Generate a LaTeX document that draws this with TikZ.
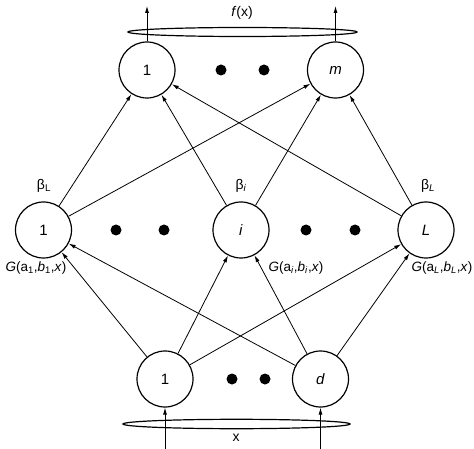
\documentclass[tikz,border=0pt]{standalone}
\usepackage{fontspec}
\setmainfont{Liberation Sans}
\usetikzlibrary{arrows.meta}
\begin{document}
\begin{tikzpicture}[x=1pt,y=-1pt,
  neuron/.style={circle,draw,line width=1.2pt,minimum size=56pt,inner sep=0pt,font=\fontsize{15}{17}\selectfont},
  lbl/.style={font=\fontsize{14}{16}\selectfont,inner sep=0pt},
  glbl/.style={font=\fontsize{13.5}{16}\selectfont,inner sep=0pt},
  conn/.style={line width=0.8pt,-{Latex[length=7pt,width=4pt]}},
  dotn/.style={circle,fill,inner sep=0pt,minimum size=11pt}]
\useasboundingbox (0,0) rectangle (474,449);
% top layer
\node[neuron] (t1) at (147,70) {1};
\node[neuron] (tm) at (335.5,70) {\textit{m}};
\node[dotn] (td1) at (221,70) {};
\node[dotn] (td2) at (264,70) {};
% middle layer
\node[neuron] (h1) at (43.5,230) {1};
\node[neuron] (hi) at (241,230) {\textit{i}};
\node[neuron] (hL) at (426,230) {\textit{L}};
\node[dotn] (hd1) at (116,230) {};
\node[dotn] (hd2) at (164,230) {};
\node[dotn] (hd3) at (306,230) {};
\node[dotn] (hd4) at (355,230) {};
% bottom layer
\node[neuron] (b1) at (165,379) {1};
\node[neuron] (bd) at (320.5,379) {\textit{d}};
\node[dotn] (bd1) at (232,379) {};
\node[dotn] (bd2) at (265,379) {};
% ellipses
\draw[line width=1.2pt] (242.5,32) ellipse [x radius=114.5, y radius=4.5];
\draw[line width=1.2pt] (236.5,424) ellipse [x radius=113.5, y radius=4.7];
\node[lbl] (fx) at (242,13) {\textit{f}(x)};
\node[lbl] (xl) at (236,438) {x};
% output arrows
\coordinate (o1) at (147,6);
\coordinate (om) at (335.5,6);
\draw[conn] (t1) -- (o1);
\draw[conn] (tm) -- (om);
% input arrows
\coordinate (i1) at (165,449);
\coordinate (id) at (320.5,449);
\draw[conn] (i1) -- (b1);
\draw[conn] (id) -- (bd);
% labels
\node[lbl] (betaL1) at (44,186) {β\textsubscript{L}};
\node[lbl] (betai) at (241,186) {β\textsubscript{\textit{i}}};
\node[lbl] (betaL2) at (428,186) {β\textsubscript{\textit{L}}};
\node[glbl] (g1) at (36,268) {\textit{G}(a\textsubscript{1},\textit{b}\textsubscript{1},\textit{x})};
\node[glbl] (gi) at (296,268) {\textit{G}(a\textsubscript{\textit{i}},\textit{b}\textsubscript{\textit{i}},\textit{x})};
\node[glbl] (gL) at (442,268) {\textit{G}(a\textsubscript{\textit{L}},\textit{b}\textsubscript{\textit{L}},\textit{x})};
% bottom -> middle
\foreach \s in {b1,bd}
  \foreach \t in {h1,hi,hL}
    \draw[conn] (\s) -- (\t);
% middle -> top
\foreach \s in {h1,hi,hL}
  \foreach \t in {t1,tm}
    \draw[conn] (\s) -- (\t);
\end{tikzpicture}
\end{document}
